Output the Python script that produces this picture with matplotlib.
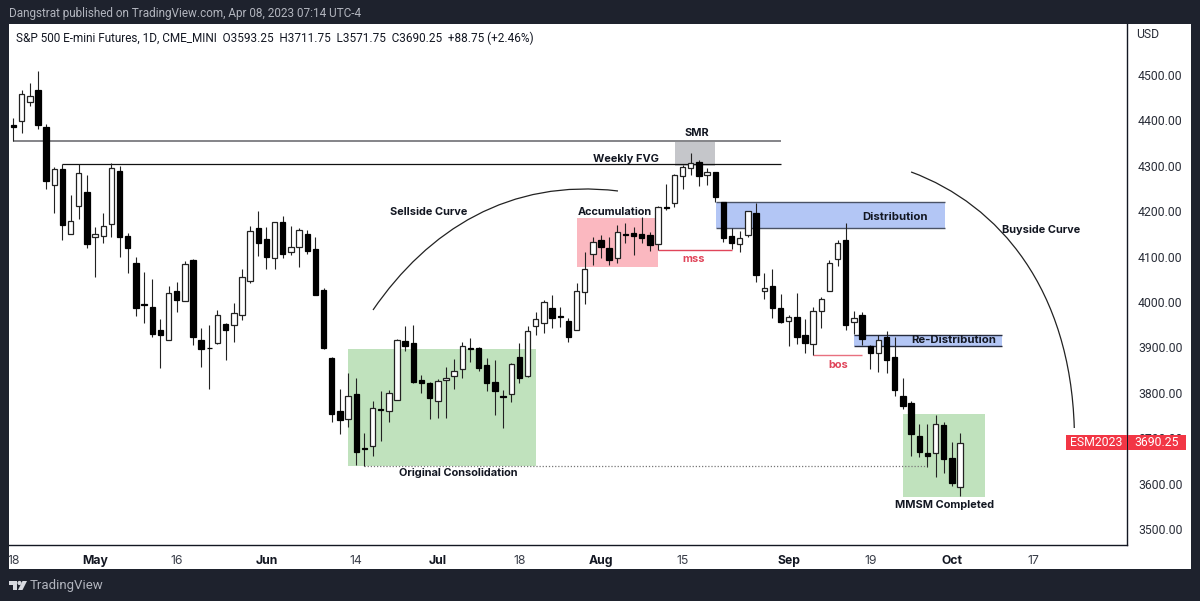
# plot.py
# S&P 500 E-mini daily candles with hand drawn style annotations

import matplotlib
matplotlib.use('Agg')
import numpy as np
import matplotlib.pyplot as plt
from matplotlib.patches import Rectangle, PathPatch, Polygon, Circle, FancyBboxPatch
from matplotlib.path import Path
from matplotlib.transforms import IdentityTransform

plt.rcParams['font.family'] = ['Inter', 'DejaVu Sans']

# Candle data
opens = [4389, 4399, 4441, 4467, 4386, 4258, 4293, 4150, 4212, 4242,
         4143, 4145, 4172, 4289, 4145, 4086, 3996, 3989, 3938, 3916,
         4024, 4002, 4093, 3916, 3899, 3910, 3952, 3949, 3971, 4046,
         4163, 4139, 4097, 4176, 4110, 4121, 4150, 4117, 4026, 3877,
         3760, 3742, 3797, 3678, 3683, 3764, 3760, 3784, 3914, 3910,
         3828, 3822, 3782, 3828, 3837, 3853, 3899, 3899, 3861, 3824,
         3793, 3797, 3879, 3837, 3947, 3954, 3987, 3969, 3958, 3938,
         4022, 4106, 4137, 4119, 4097, 4150, 4152, 4150, 4148, 4128,
         4209, 4218, 4278, 4295, 4308, 4280, 4286, 4220, 4145, 4128,
         4148, 4196, 4024, 4035, 3987, 3958, 3967, 3927, 3908, 3980,
         4024, 4095, 4137, 3956, 3971, 3903, 3888, 3923, 3879, 3793,
         3778, 3705, 3667, 3667, 3729, 3657, 3593.25]
highs = [4405, 4467, 4482, 4509, 4392, 4297, 4304, 4236, 4304, 4280,
         4165, 4196, 4306, 4300, 4152, 4099, 4066, 4051, 3963, 4035,
         4044, 4090, 4095, 3943, 3949, 3982, 3954, 3998, 4073, 4167,
         4201, 4165, 4176, 4189, 4167, 4163, 4159, 4143, 4031, 3879,
         3808, 3844, 3833, 3711, 3782, 3804, 3806, 3919, 3947, 3949,
         3839, 3824, 3830, 3857, 3875, 3912, 3921, 3901, 3877, 3872,
         3806, 3866, 3910, 3947, 3978, 4004, 4015, 3989, 3965, 4042,
         4110, 4143, 4148, 4143, 4170, 4174, 4165, 4187, 4154, 4212,
         4260, 4282, 4302, 4328, 4313, 4295, 4286, 4220, 4163, 4156,
         4201, 4218, 4064, 4073, 4018, 3971, 4020, 3963, 3989, 4011,
         4093, 4137, 4174, 3980, 3978, 3905, 3927, 3936, 3923, 3833,
         3782, 3731, 3731, 3751, 3736, 3692, 3711.75]
lows = [4355, 4372, 4432, 4381, 4249, 4196, 4137, 4150, 4183, 4119,
        4055, 4130, 4143, 4099, 4064, 3969, 3954, 3923, 3855, 3916,
        3978, 4002, 3905, 3857, 3808, 3908, 3872, 3912, 3960, 4042,
        4101, 4073, 4073, 4097, 4104, 4077, 4106, 4015, 3896, 3736,
        3709, 3725, 3641, 3639, 3661, 3694, 3736, 3784, 3892, 3822,
        3800, 3742, 3745, 3745, 3808, 3833, 3868, 3848, 3804, 3751,
        3723, 3780, 3822, 3835, 3927, 3932, 3943, 3945, 3912, 3938,
        3996, 4082, 4097, 4082, 4086, 4130, 4104, 4130, 4112, 4115,
        4203, 4209, 4249, 4280, 4256, 4258, 4220, 4132, 4117, 4110,
        4143, 4044, 4007, 3965, 3954, 3903, 3908, 3888, 3883, 3943,
        4024, 4079, 3938, 3930, 3905, 3853, 3846, 3844, 3793, 3764,
        3661, 3659, 3637, 3615, 3623, 3595, 3571.75]
closes = [4386, 4458, 4454, 4390, 4267, 4293, 4170, 4178, 4284, 4128,
          4150, 4167, 4295, 4143, 4119, 3987, 3993, 3930, 3927, 4020,
          4004, 4084, 3923, 3896, 3898, 3971, 3938, 3976, 4055, 4156,
          4130, 4099, 4176, 4106, 4121, 4159, 4112, 4015, 3899, 3753,
          3740, 3793, 3670, 3676, 3767, 3762, 3800, 3916, 3903, 3824,
          3822, 3789, 3826, 3833, 3848, 3903, 3896, 3855, 3822, 3804,
          3791, 3864, 3833, 3936, 3963, 4000, 3965, 3967, 3923, 4024,
          4073, 4132, 4121, 4093, 4154, 4148, 4145, 4141, 4126, 4209,
          4207, 4280, 4297, 4306, 4278, 4286, 4231, 4141, 4130, 4141,
          4201, 4060, 4031, 3987, 3956, 3967, 3923, 3910, 3980, 4007,
          4086, 4130, 3949, 3965, 3919, 3888, 3916, 3872, 3806, 3771,
          3709, 3670, 3661, 3731, 3654, 3601, 3690.25]

price_ticks = [3500, 3600, 3700, 3800, 3900, 4000, 4100, 4200, 4300, 4400, 4500]
date_ticks = [0, 10, 20, 31, 42, 52, 62, 72, 82, 95, 105, 115, 125]
date_labels = ['18', 'May', '16', 'Jun', '14', 'Jul', '18', 'Aug', '15', 'Sep', '19', 'Oct', '17']
month_labels = ['May', 'Jun', 'Jul', 'Aug', 'Sep', 'Oct']

DARK = '#1e222d'
INK = '#131722'
W, H = 1200, 601

def px(x, y):
    """figure fraction from pixel position"""
    return x / W, 1 - y / H

fig = plt.figure(figsize=(12, 6.01), dpi=100, facecolor=DARK)
fig.add_artist(Rectangle(px(9, 569), 1182 / W, 545 / H, transform=fig.transFigure,
                         facecolor='white', edgecolor='none', zorder=-5))
ax = fig.add_axes([9 / W, 1 - 545 / H, 1118 / W, 521 / H])
ax.patch.set_alpha(0)
ax.set_xlim(-0.55, 136.46)
ax.set_ylim(3464.8, 4612.3)
for s in ['top', 'left']:
    ax.spines[s].set_visible(False)
ax.spines['bottom'].set_linewidth(1.0)
ax.spines['right'].set_linewidth(1.0)
ax.spines['bottom'].set_color(INK)
ax.spines['right'].set_color(INK)

# Zones
ax.add_patch(Rectangle((41, 3639), 23, 258, fc='#c0e2bd', ec='none', zorder=1))
ax.add_patch(Rectangle((69.05, 4077), 9.95, 108, fc='#fbb8c0', ec='none', zorder=1))
ax.add_patch(Rectangle((81.07, 4300), 4.93, 52, fc='#c5c6ca', ec='none', zorder=1))
ax.add_patch(Rectangle((86.1, 4163), 28, 57, fc='#b3c6f5', ec='none', zorder=1))
ax.add_patch(Rectangle((103, 3903), 18.1, 24, fc='#b3c6f5', ec='none', zorder=1))
ax.add_patch(Rectangle((109.05, 3571), 10.05, 183, fc='#c0e2bd', ec='none', zorder=1))

# Level lines
ax.hlines(4355, 0, 94, color='#6f7074', lw=1.2, zorder=2)
ax.hlines(4304, 6, 94, color='#111111', lw=0.9, zorder=2)
ax.hlines([4220, 4163], 86.1, 114.1, color='#4a5265', lw=1.0, zorder=2)
ax.hlines([3927, 3903], 103, 121.1, color='#262c3e', lw=1.0, zorder=2)
ax.hlines(4115, 79, 88, color='#e0455a', lw=1.0, zorder=2)
ax.hlines(3883, 98, 104, color='#e8707f', lw=1.0, zorder=2)
ax.hlines(3639, 43, 112, color='#777777', lw=0.9, linestyles=(0, (1, 1.5)), zorder=2)

# Curves
sell_curve = Path([(44.06, 3982.4), (50.8, 4158.6), (60.8, 4273.1), (74.08, 4244.5)],
                  [Path.MOVETO, Path.CURVE4, Path.CURVE4, Path.CURVE4])
buy_curve = Path([(110.0, 4286.4), (120.9, 4213.7), (129.5, 4026.4), (130.0, 3722.5)],
                 [Path.MOVETO, Path.CURVE4, Path.CURVE4, Path.CURVE4])
ax.add_patch(PathPatch(sell_curve, fc='none', ec='#222222', lw=0.9, zorder=2))
ax.add_patch(PathPatch(buy_curve, fc='none', ec='#222222', lw=0.9, zorder=2))

# Candles
x = np.arange(len(opens))
o = np.array(opens)
c = np.array(closes)
up = c >= o
ax.vlines(x, lows, highs, color='#222222', lw=0.8, zorder=3)
ax.bar(x[up], (c - o)[up], bottom=o[up], width=0.66, fc='white', ec='#222222', lw=0.9, zorder=4)
ax.bar(x[~up], (c - o)[~up], bottom=o[~up], width=0.66, fc='black', ec='black', lw=0.9, zorder=4)

# Axes ticks
ax.yaxis.tick_right()
ax.set_yticks(price_ticks)
ax.set_yticklabels([f'{p:.2f}' for p in price_ticks], fontsize=8.8, color='#2a2e39', family='Roboto')
ax.set_xticks(date_ticks)
ax.set_xticklabels(date_labels, fontsize=8.8, color='#3a3e49')
ax.tick_params(axis='both', length=0)
ax.tick_params(axis='y', pad=8)
ax.tick_params(axis='x', pad=7)
for lab in ax.get_xticklabels():
    if lab.get_text() in month_labels:
        lab.set_fontweight('bold')
        lab.set_color(INK)

# Last price tags
ax.add_patch(Rectangle((129, 3673.5), 7.4, 33, fc='#f23645', ec='none', clip_on=False, zorder=6))
ax.add_patch(Rectangle((136.6, 3673.5), 7.1, 33, fc='#f23645', ec='none', clip_on=False, zorder=6))
ax.text(132.7, 3690.25, 'ESM2023', color='white', fontsize=8.8, ha='center', va='center',
        family='Roboto', zorder=7)
ax.text(140.15, 3690.25, '3690.25', color='white', fontsize=8.8, ha='center', va='center',
        family='Roboto', clip_on=False, zorder=7)

# Labels
labels = [
    ('SMR', 697, 133, INK, 7.9), ('Weekly FVG', 626, 159, INK, 7.9),
    ('Sellside Curve', 429, 212, INK, 7.9), ('Accumulation', 615, 212, INK, 7.9),
    ('Distribution', 895, 217, INK, 8.2), ('mss', 694, 259, '#e0455a', 7.9),
    ('Re-Distribution', 954, 340, INK, 8.2), ('bos', 838, 365, '#e0455a', 7.9),
    ('Original Consolidation', 458, 473, INK, 7.9), ('MMSM Completed', 945, 505, INK, 7.9),
    ('Buyside Curve', 1041, 230, INK, 7.9),
]
for text, lx, ly, col, fs in labels:
    fx, fy = px(lx, ly)
    fig.text(fx, fy, text, color=col, fontsize=fs, fontweight='bold', ha='center', va='center', zorder=8)

# Header and footer
fig.text(*px(9, 14), 'Dangstrat published on TradingView.com, Apr 08, 2023 07:14 UTC-4',
         color='#b2b5be', fontsize=8.5, va='center', family='Roboto')
fig.text(*px(16, 38), 'S&P 500 E-mini Futures, 1D, CME_MINI  O3593.25  H3711.75  L3571.75  C3690.25  +88.75 (+2.46%)',
         color=INK, fontsize=8.5, va='center', family='Roboto')
fig.text(*px(1136, 35), 'USD', color='#2a2e39', fontsize=8.8, va='center', family='Roboto')
fig.text(*px(30, 586), 'TradingView', color='#b2b5be', fontsize=9.5, va='center', family='Roboto')

# TradingView logo
logo_t = [(9, 581), (17, 581), (17, 590), (13, 590), (13, 585), (9, 585)]
logo_s = [(22.5, 581), (27, 581), (22.5, 590), (18, 590)]
fig.add_artist(Polygon([px(*p) for p in logo_t], transform=fig.transFigure, fc='#d8dae0', ec='none'))
fig.add_artist(Polygon([px(*p) for p in logo_s], transform=fig.transFigure, fc='#d8dae0', ec='none'))
fig.add_artist(Circle((19.5, H - 583), 2.1, transform=IdentityTransform(), fc='#d8dae0', ec='none'))

fig.savefig('out.png', dpi=100, facecolor=fig.get_facecolor())
